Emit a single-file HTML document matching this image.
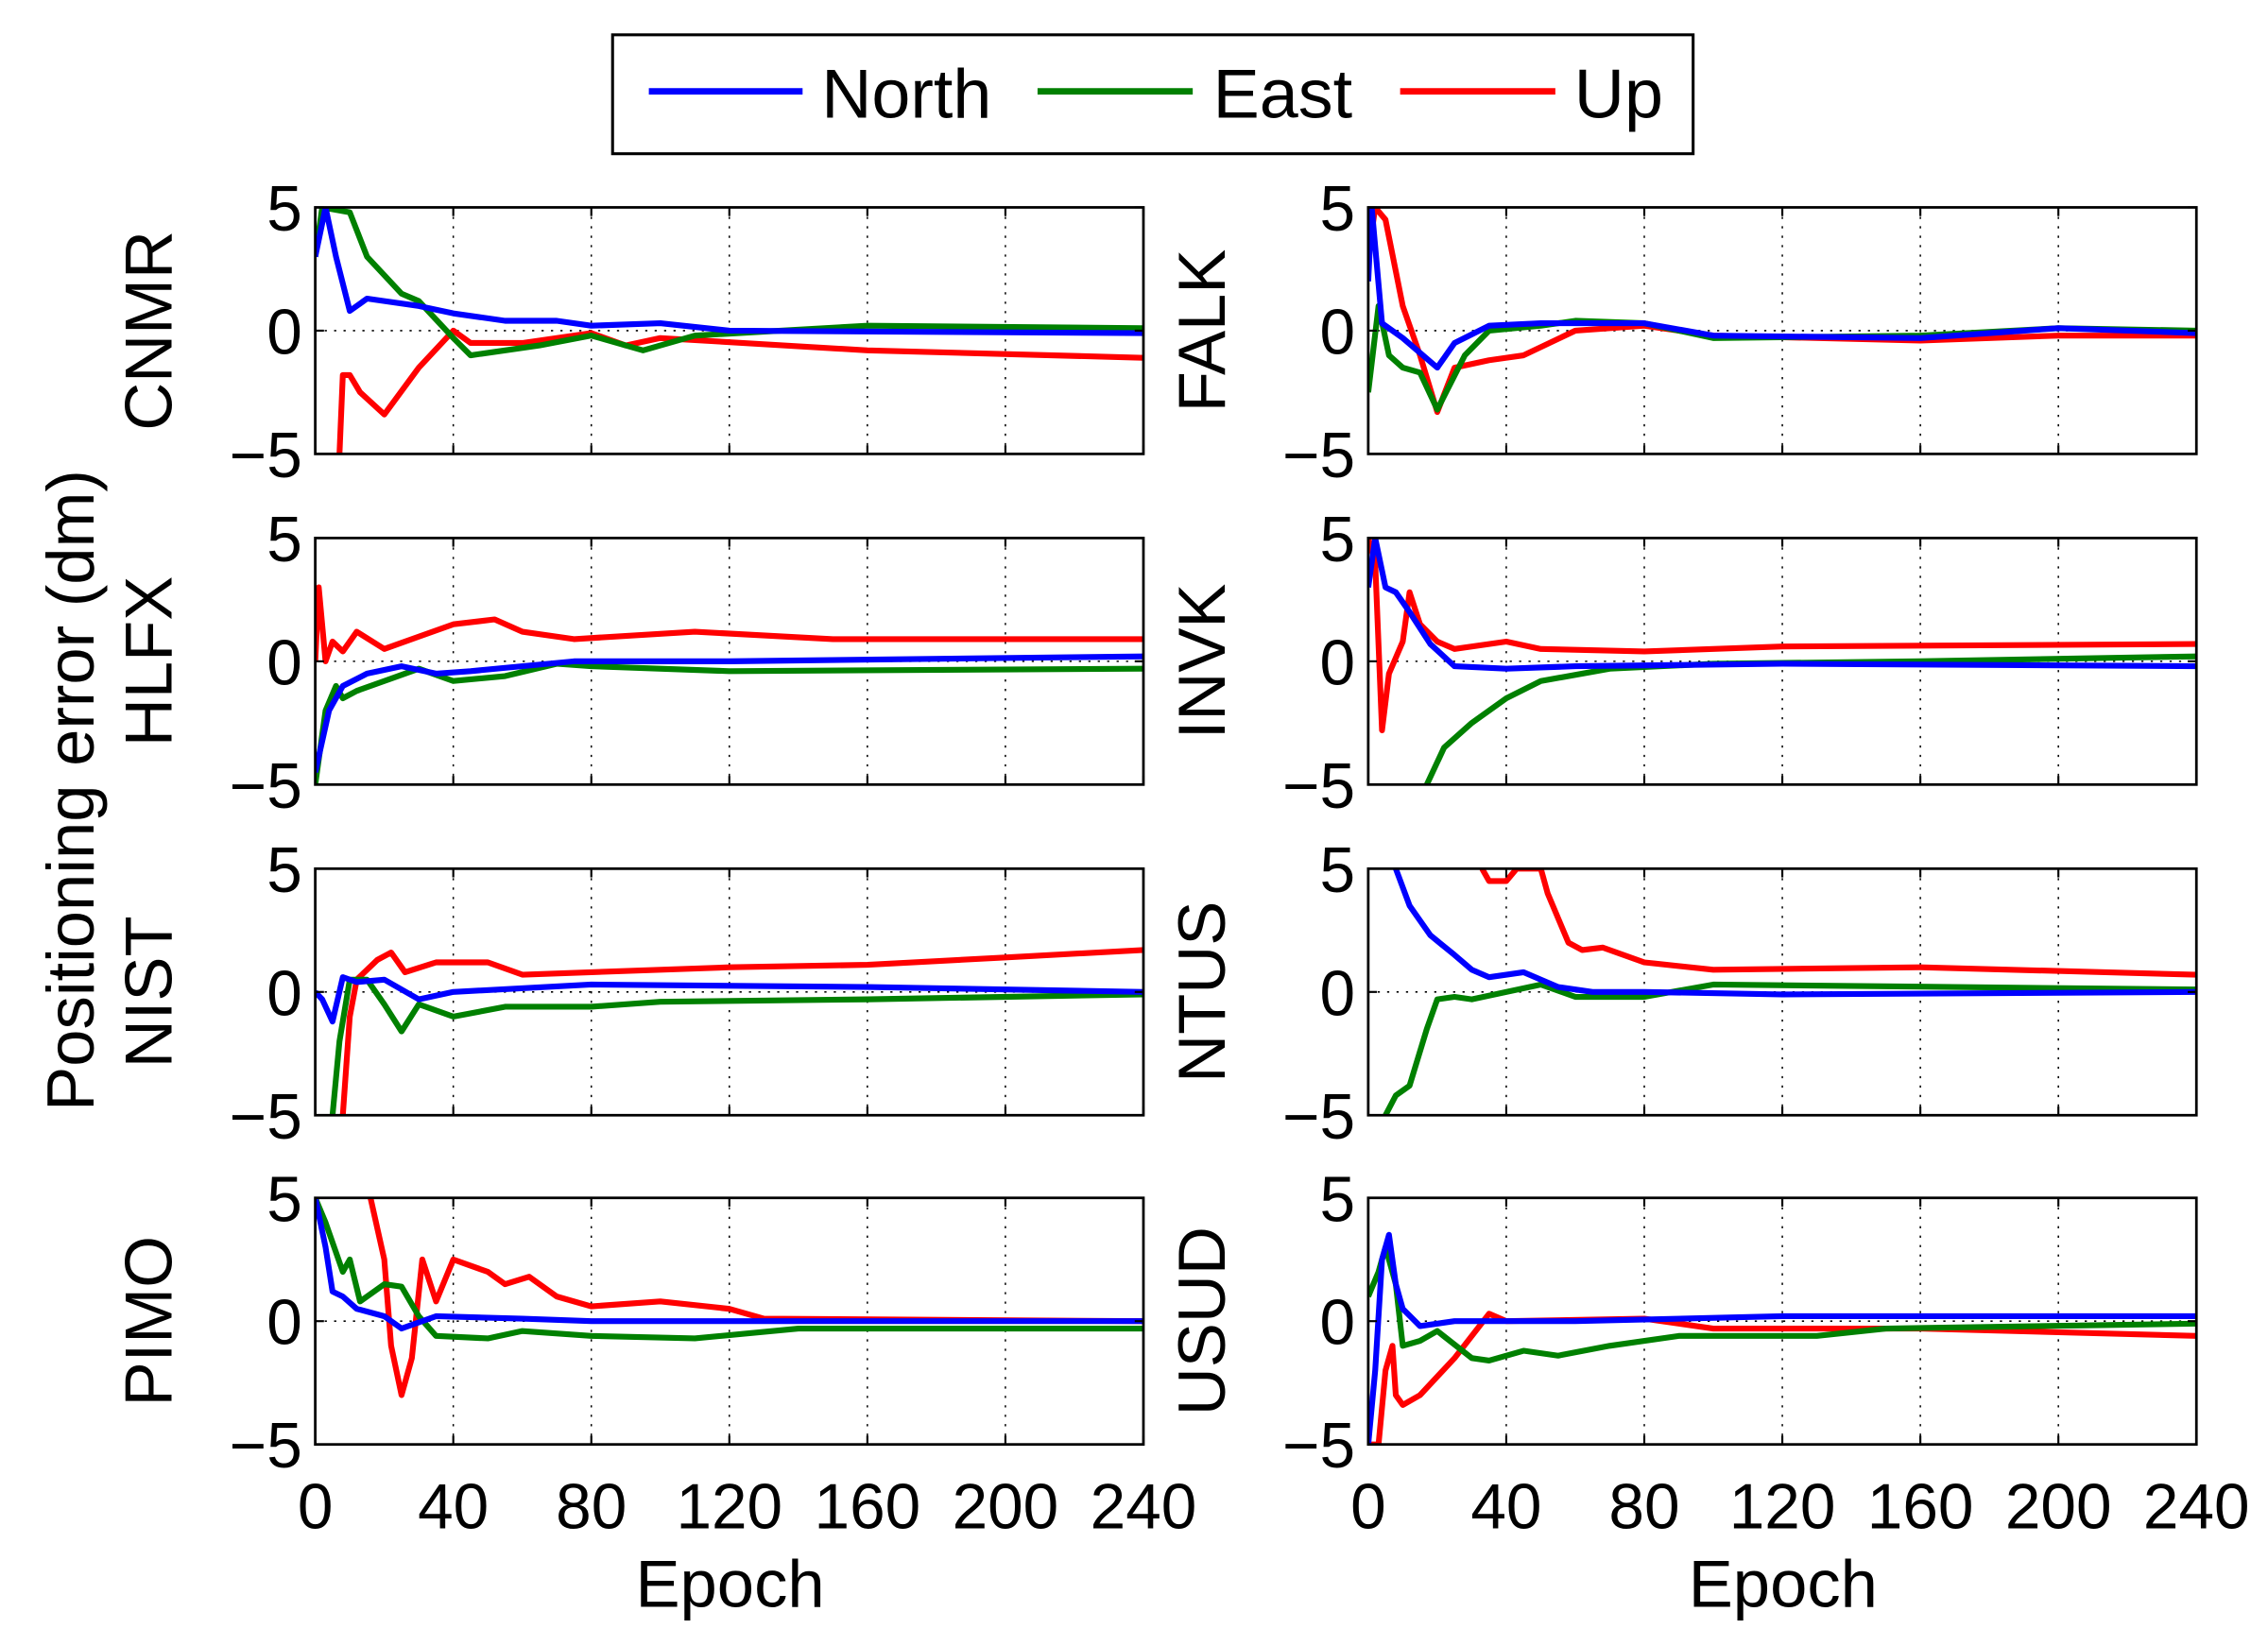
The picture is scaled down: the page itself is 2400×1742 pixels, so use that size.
<!DOCTYPE html>
<html><head><meta charset="utf-8"><style>
html,body{margin:0;padding:0;background:#fff;}
svg{display:block;}
text{font-family:"Liberation Sans",sans-serif;fill:#000;}
</style></head><body>
<svg id="s" width="2400" height="1742" viewBox="0 0 1563 1135" xmlns="http://www.w3.org/2000/svg">
<rect width="1563" height="1135" fill="#fff"/>
<rect x="422" y="24" width="745" height="82" fill="#fff" stroke="#000" stroke-width="2"/>
<line x1="447" y1="63" x2="553" y2="63" stroke="#0000ff" stroke-width="4.5"/>
<text x="566" y="81" font-size="48">North</text>
<line x1="715" y1="63" x2="822" y2="63" stroke="#008000" stroke-width="4.5"/>
<text x="836" y="81" font-size="48">East</text>
<line x1="965" y1="63" x2="1072" y2="63" stroke="#ff0000" stroke-width="4.5"/>
<text x="1085" y="81" font-size="48">Up</text>
<text transform="translate(64,545) rotate(-90)" text-anchor="middle" font-size="46">Positioning error (dm)</text>
<text x="503" y="1108" text-anchor="middle" font-size="46">Epoch</text>
<text x="1229" y="1108" text-anchor="middle" font-size="46">Epoch</text>
<g id="g"></g>
</svg>
<script>
var NS="http://www.w3.org/2000/svg",g=document.getElementById('g');
function el(t,a,txt){var e=document.createElementNS(NS,t);for(var k in a)e.setAttribute(k,a[k]);if(txt!=null)e.textContent=txt;g.appendChild(e);return e;}
var cols=[217,943],rows=[143,371,599,826],W=571,H=170;
var P=[
["CNMR",
[[0,3],[3,5],[6,3],[10,0.8],[15,1.3],[20,1.2],[30,1],[40,0.7],[55,0.4],[70,0.4],[80,0.2],[100,0.3],[120,0],[240,-0.1]],
[[0,3],[2,5],[10,4.8],[15,3],[25,1.5],[30,1.2],[40,-0.3],[45,-1],[55,-0.8],[65,-0.6],[80,-0.2],[95,-0.8],[110,-0.2],[160,0.2],[240,0.1]],
[[7,-5],[8,-1.8],[10,-1.8],[13,-2.5],[20,-3.4],[30,-1.5],[40,0],[45,-0.5],[60,-0.5],[80,-0.1],[90,-0.6],[100,-0.3],[160,-0.8],[240,-1.1]]],
["FALK",
[[0,2],[1,5],[4,0.3],[10,-0.3],[20,-1.5],[25,-0.5],[35,0.2],[50,0.3],[80,0.3],[100,-0.2],[160,-0.3],[200,0.1],[240,-0.1]],
[[0,-2.5],[3,1],[6,-1],[10,-1.5],[15,-1.7],[20,-3.2],[28,-1],[35,0],[50,0.2],[60,0.4],[80,0.3],[100,-0.3],[160,-0.2],[200,0.1],[240,0]],
[[0,3],[2,5],[5,4.5],[10,1],[15,-1],[20,-3.3],[25,-1.5],[35,-1.2],[45,-1],[60,0],[80,0.2],[100,-0.2],[160,-0.4],[200,-0.2],[240,-0.2]]],
["HLFX",
[[0,-4.5],[4,-2],[8,-1],[15,-0.5],[25,-0.2],[35,-0.5],[45,-0.4],[75,0],[120,0],[240,0.2]],
[[0,-5],[3,-2],[6,-1],[8,-1.5],[12,-1.2],[20,-0.8],[30,-0.3],[40,-0.8],[55,-0.6],[70,-0.1],[80,-0.2],[120,-0.4],[240,-0.3]],
[[0,0],[1,3],[3,0],[5,0.8],[8,0.4],[12,1.2],[20,0.5],[30,1],[40,1.5],[52,1.7],[60,1.2],[75,0.9],[110,1.2],[150,0.9],[240,0.9]]],
["INVK",
[[0,3],[2,5],[5,3],[8,2.8],[12,2],[18,0.7],[25,-0.2],[40,-0.3],[60,-0.2],[120,-0.1],[240,-0.2]],
[[17,-5],[22,-3.5],[30,-2.5],[40,-1.5],[50,-0.8],[70,-0.3],[100,-0.1],[160,0],[240,0.2]],
[[0,5],[2,4],[4,-2.8],[6,-0.5],[10,0.8],[12,2.8],[15,1.5],[20,0.8],[25,0.5],[40,0.8],[50,0.5],[80,0.4],[120,0.6],[240,0.7]]],
["NIST",
[[0,0],[2,-0.3],[5,-1.2],[8,0.6],[12,0.4],[20,0.5],[30,-0.3],[40,0],[80,0.3],[160,0.2],[240,0]],
[[5,-5],[7,-2],[10,0.5],[15,0.5],[20,-0.5],[25,-1.6],[30,-0.5],[40,-1],[55,-0.6],[80,-0.6],[100,-0.4],[160,-0.3],[240,-0.1]],
[[8,-5],[10,-1],[12,0.5],[18,1.3],[22,1.6],[26,0.8],[35,1.2],[50,1.2],[60,0.7],[80,0.8],[120,1],[160,1.1],[200,1.4],[240,1.7]]],
["NTUS",
[[8,5],[12,3.5],[18,2.3],[25,1.5],[30,0.9],[35,0.6],[45,0.8],[55,0.2],[65,0],[80,0],[120,-0.1],[240,0]],
[[5,-5],[8,-4.2],[12,-3.8],[17,-1.5],[20,-0.3],[25,-0.2],[30,-0.3],[50,0.3],[60,-0.2],[80,-0.2],[100,0.3],[240,0.1]],
[[33,5],[35,4.5],[40,4.5],[43,5],[50,5],[52,4],[58,2],[62,1.7],[68,1.8],[80,1.2],[100,0.9],[160,1],[240,0.7]]],
["PIMO",
[[0,5],[3,3],[5,1.2],[8,1],[12,0.5],[20,0.2],[25,-0.3],[35,0.2],[60,0.1],[80,0],[160,0],[240,0]],
[[0,5],[3,4],[8,2],[10,2.5],[13,0.8],[20,1.5],[25,1.4],[30,0.2],[35,-0.6],[50,-0.7],[60,-0.4],[80,-0.6],[110,-0.7],[140,-0.3],[240,-0.3]],
[[16,5],[20,2.5],[22,-1],[25,-3],[28,-1.5],[31,2.5],[35,0.8],[40,2.5],[50,2],[55,1.5],[62,1.8],[70,1],[80,0.6],[100,0.8],[120,0.5],[130,0.1],[240,0]]],
["USUD",
[[0,-5],[2,-2],[4,2.5],[6,3.5],[8,1.5],[10,0.5],[15,-0.2],[25,0],[60,0],[120,0.2],[240,0.2]],
[[0,1],[3,2],[5,3],[8,1.5],[10,-1],[15,-0.8],[20,-0.4],[30,-1.5],[35,-1.6],[45,-1.2],[55,-1.4],[70,-1],[90,-0.6],[130,-0.6],[150,-0.3],[240,-0.1]],
[[0,-5],[3,-5],[5,-2],[7,-1],[8,-3],[10,-3.4],[15,-3],[25,-1.5],[35,0.3],[40,0],[80,0.1],[100,-0.3],[160,-0.3],[240,-0.6]]]
];
var C=["#0000ff","#008000","#ff0000"];
P.forEach(function(p,i){
 var x0=cols[i%2],y0=rows[Math.floor(i/2)],yc=y0+H/2;
 var id="c"+i;
 var cp=el("clipPath",{id:id});cp.appendChild((function(){var r=document.createElementNS(NS,"rect");r.setAttribute("x",x0);r.setAttribute("y",y0);r.setAttribute("width",W);r.setAttribute("height",H);return r;})());
 for(var k=1;k<6;k++){var gx=x0+k*W/6;el("line",{x1:gx,y1:y0,x2:gx,y2:y0+H,stroke:"#000","stroke-width":1,"stroke-dasharray":"1.5 5"});}
 el("line",{x1:x0,y1:yc,x2:x0+W,y2:yc,stroke:"#000","stroke-width":1,"stroke-dasharray":"1.5 5"});
 [2,1,0].forEach(function(s){
  var pts=p[s+1].map(function(q){return (x0+q[0]*W/240).toFixed(1)+","+(yc-q[1]*H/10).toFixed(1);}).join(" ");
  el("polyline",{points:pts,fill:"none",stroke:C[s],"stroke-width":4,"stroke-linejoin":"round","clip-path":"url(#"+id+")"});
 });
 el("rect",{x:x0,y:y0,width:W,height:H,fill:"none",stroke:"#000","stroke-width":1.8});
 for(var k=0;k<=6;k++){var gx=x0+k*W/6;el("line",{x1:gx,y1:y0+H,x2:gx,y2:y0+H-6,stroke:"#000","stroke-width":1.4});el("line",{x1:gx,y1:y0,x2:gx,y2:y0+6,stroke:"#000","stroke-width":1.4});}
 [y0,yc,y0+H].forEach(function(yy){el("line",{x1:x0,y1:yy,x2:x0+6,y2:yy,stroke:"#000","stroke-width":1.4});el("line",{x1:x0+W,y1:yy,x2:x0+W-6,y2:yy,stroke:"#000","stroke-width":1.4});});
 el("text",{x:x0-9,y:y0+16,"text-anchor":"end","font-size":44},"5");
 el("text",{x:x0-9,y:yc+16,"text-anchor":"end","font-size":44},"0");
 el("text",{x:x0-9,y:y0+H+16,"text-anchor":"end","font-size":44},"\u22125");
 el("text",{transform:"translate("+(x0-99)+","+yc+") rotate(-90)","text-anchor":"middle","font-size":46},p[0]);
 if(i>=6){for(var k=0;k<=6;k++){el("text",{x:x0+k*W/6,y:1054,"text-anchor":"middle","font-size":44},String(k*40));}}
});
</script>
</body></html>
